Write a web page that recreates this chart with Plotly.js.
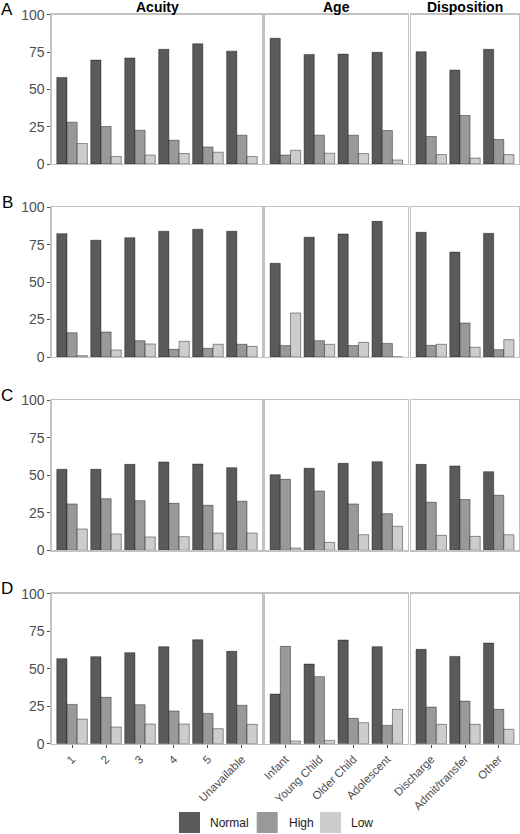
<!DOCTYPE html>
<html><head><meta charset="utf-8">
<script src="https://cdn.plot.ly/plotly-3.0.1.min.js"></script>
<style>html,body{margin:0;padding:0;background:#fff}#chart{width:520px;height:834px}</style>
</head><body><div id="chart"></div>
<script>
// Categories per facet
const acuityCats = ['1','2','3','4','5','Unavailable'];
const ageCats = ['Infant','Young Child','Older Child','Adolescent'];
const dispositionCats = ['Discharge','Admit/transfer','Other'];
const facetTitles = ['Acuity','Age','Disposition'];
const rowLabels = ['A','B','C','D'];
const seriesNames = ['Normal','High','Low'];

// Values (%), each array = Acuity(6) + Age(4) + Disposition(3)
const rowA_normal = [58, 69.6, 71, 76.8, 80.5, 75.6,  84.2, 73.4, 73.6, 74.8,  75.2, 62.9, 76.8];
const rowA_high   = [28, 25.1, 22.6, 15.9, 11.4, 19.3,  6, 19.3, 19.3, 22.4,  18.4, 32.5, 16.4];
const rowA_low    = [13.7, 5, 6, 7, 7.9, 5,  9.2, 7.2, 7, 2.7,  6.3, 4, 6.3];

const rowB_normal = [82.4, 78, 79.7, 84, 85.3, 84,  62.6, 80, 82.2, 90.6,  83.3, 70.1, 82.6];
const rowB_high   = [16.2, 16.7, 10.9, 5.1, 5.8, 8.5,  7.6, 10.9, 7.6, 9.1,  7.8, 22.7, 4.9];
const rowB_low    = [0.9, 4.7, 8.7, 10.5, 8.5, 7.1,  29.4, 8.5, 9.8, 0,  8.5, 6.5, 11.6];

const rowC_normal = [54, 54, 57.3, 58.9, 57.5, 55.1,  50.4, 54.7, 58, 59.1,  57.3, 56.2, 52.4];
const rowC_high   = [30.9, 34.4, 33.1, 31.3, 30, 32.7,  47.3, 39.5, 30.9, 24.4,  32, 33.8, 36.7];
const rowC_low    = [14.2, 10.9, 8.9, 9.1, 11.5, 11.5,  1.5, 5.3, 10.4, 16,  10, 9.3, 10.4];

const rowD_normal = [56.7, 58, 60.7, 64.7, 69.3, 61.6,  33.1, 53.1, 69.1, 64.7,  62.9, 58.2, 67.1];
const rowD_high   = [26.2, 30.9, 26, 21.8, 20.2, 25.6,  64.9, 44.7, 16.9, 12.2,  24.4, 28.4, 22.9];
const rowD_low    = [16.4, 11.1, 13.1, 13.1, 10, 12.9,  1.8, 2.2, 14, 22.9,  12.9, 12.9, 9.6];

const yTicks = [0, 25, 50, 75, 100];

// ---- styling / layout ----
const W = 520, H = 834;
const colors = ['#5a5a5a', '#999999', '#cdcdcd'];
const facetCats = [acuityCats, ageCats, dispositionCats];
const rows = [
  [rowA_normal, rowA_high, rowA_low],
  [rowB_normal, rowB_high, rowB_low],
  [rowC_normal, rowC_high, rowC_low],
  [rowD_normal, rowD_high, rowD_low]
];
const rowTop = [14.7, 207.3, 400.3, 593.7];
const rowBot = [164, 357, 550.3, 743.7];
const colL = [51.7, 265, 411];
const colR = [262.3, 407.7, 519];
const px = v => v / W;
const py = v => 1 - v / H;

const font = 'Liberation Sans, Arial, sans-serif';
const traces = [];
const layout = {
  width: W, height: H,
  margin: {l: 0, r: 0, t: 0, b: 0},
  paper_bgcolor: '#fff', plot_bgcolor: '#fff',
  barmode: 'group', bargap: 0.1, bargroupgap: 0,
  showlegend: false,
  font: {family: font, color: '#4d4d4d'},
  annotations: [], shapes: []
};

const offsets = [0, 6, 10];
for (let r = 0; r < 4; r++) {
  for (let c = 0; c < 3; c++) {
    const k = r * 3 + c + 1;
    const xa = 'x' + (k === 1 ? '' : k), ya = 'y' + (k === 1 ? '' : k);
    const cats = facetCats[c];
    for (let s = 0; s < 3; s++) {
      traces.push({
        type: 'bar', name: seriesNames[s],
        x: cats, y: rows[r][s].slice(offsets[c], offsets[c] + cats.length),
        xaxis: xa, yaxis: ya,
        marker: {color: colors[s], line: {color: 'rgba(0,0,0,0.4)', width: 1}},
        hoverinfo: 'x+y+name'
      });
    }
    const isBottom = r === 3, isLeft = c === 0;
    layout['xaxis' + (k === 1 ? '' : k)] = {
      domain: [px(colL[c]), px(colR[c])], anchor: ya,
      type: 'category', categoryorder: 'array', categoryarray: cats,
      range: [-0.6, cats.length - 0.4], fixedrange: true,
      showline: true, mirror: true, linecolor: '#c2c2c2', linewidth: 1.3,
      showgrid: false, zeroline: false,
      showticklabels: isBottom, ticks: isBottom ? 'outside' : '', ticklen: 3, tickcolor: '#4d4d4d',
      tickangle: -45, tickfont: {family: font, size: 11.5, color: '#4d4d4d'}
    };
    layout['yaxis' + (k === 1 ? '' : k)] = {
      domain: [py(rowBot[r]), py(rowTop[r])], anchor: xa,
      range: [0, 100], fixedrange: true,
      tickvals: yTicks, ticktext: yTicks.map(String),
      showline: true, mirror: true, linecolor: '#c2c2c2', linewidth: 1.3,
      showgrid: false, zeroline: false,
      showticklabels: isLeft, ticks: isLeft ? 'outside' : '', ticklen: 3, tickcolor: '#4d4d4d',
      tickfont: {family: font, size: 14, color: '#4d4d4d'}
    };
  }
  layout.annotations.push({
    text: rowLabels[r], xref: 'paper', yref: 'paper',
    x: px(7), y: py(rowTop[r] - 5), xanchor: 'center', yanchor: 'middle',
    showarrow: false, font: {family: font, size: 17, color: '#000'}
  });
}
for (let c = 0; c < 3; c++) {
  layout.annotations.push({
    text: '<b>' + facetTitles[c] + '</b>', xref: 'paper', yref: 'paper',
    x: px((colL[c] + colR[c]) / 2), y: py(7.5), xanchor: 'center', yanchor: 'middle',
    showarrow: false, font: {family: font, size: 14, color: '#000'}
  });
}
// legend (keys + labels)
const keyX = [179, 256.7, 320], textX = [208, 286.7, 349];
for (let s = 0; s < 3; s++) {
  layout.shapes.push({
    type: 'rect', xref: 'paper', yref: 'paper',
    x0: px(keyX[s]), x1: px(keyX[s] + 21), y0: py(833), y1: py(812),
    fillcolor: colors[s], line: {width: 0}
  });
  layout.annotations.push({
    text: seriesNames[s], xref: 'paper', yref: 'paper',
    x: px(textX[s]), y: py(822.5), xanchor: 'left', yanchor: 'middle',
    showarrow: false, font: {family: font, size: 12, color: '#1a1a1a'}
  });
}

Plotly.newPlot('chart', traces, layout, {displayModeBar: false, staticPlot: true});
</script></body></html>
